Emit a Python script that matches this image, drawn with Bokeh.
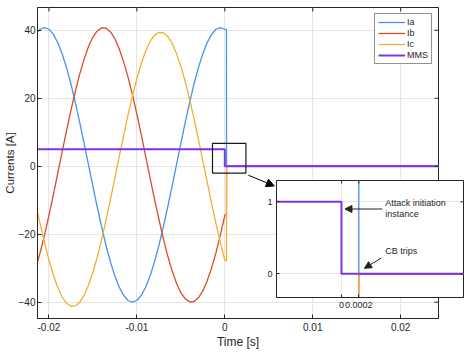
import math
from bokeh.plotting import figure
from bokeh.models import Range1d, FixedTicker, Arrow, NormalHead, Label, AllLabels
from bokeh.layouts import column
from bokeh.embed import file_html
from bokeh.resources import INLINE

FONT = "Liberation Sans"
TXT = "#262626"

# ---- data ----
t = [-0.0213, -0.0210, -0.0205, -0.0200, -0.0195, -0.0190, -0.0185, -0.0180, -0.0175,
     -0.0170, -0.0165, -0.0160, -0.0155, -0.0150, -0.0145, -0.0140, -0.0135, -0.0130,
     -0.0125, -0.0120, -0.0115, -0.0110, -0.0105, -0.0100, -0.0095, -0.0090, -0.0085,
     -0.0080, -0.0075, -0.0070, -0.0065, -0.0060, -0.0055, -0.0050, -0.0045, -0.0040,
     -0.0035, -0.0030, -0.0025, -0.0020, -0.0015, -0.0010, -0.0005, 0.0000, 0.00019,
     0.0002, 0.0243]
ia = [39.5, 40.3, 40.8, 40.3, 38.8, 36.4, 33.1, 29.0, 24.2, 18.7, 12.9, 6.7, 0.4, -5.9,
      -12.1, -17.9, -23.4, -28.2, -32.3, -35.6, -38.0, -39.5, -40.0, -39.5, -38.0, -35.6,
      -32.3, -28.2, -23.4, -17.9, -12.1, -5.9, 0.4, 6.7, 12.9, 18.7, 24.2, 29.0, 33.1,
      36.4, 38.8, 40.3, 40.8, 40.3, 40.2, 0.0, 0.0]
ib = [-28.2, -25.4, -20.2, -14.5, -8.4, -2.1, 4.2, 10.4, 16.4, 22.0, 27.1, 31.5, 35.2,
      38.0, 39.8, 40.7, 40.6, 39.5, 37.5, 34.5, 30.7, 26.2, 21.0, 15.3, 9.2, 2.9, -3.4,
      -9.6, -15.6, -21.2, -26.3, -30.7, -34.4, -37.2, -39.0, -39.9, -39.8, -38.7, -36.7,
      -33.7, -29.9, -25.4, -20.2, -14.5, -14.0, 0.0, 0.0]
ic = [-13.4, -16.9, -22.5, -27.6, -32.0, -35.7, -38.5, -40.3, -41.2, -41.1, -40.0, -38.0,
      -35.0, -31.2, -26.7, -21.5, -15.8, -9.7, -3.4, 2.9, 9.1, 15.1, 20.7, 25.8, 30.2,
      33.9, 36.7, 38.5, 39.4, 39.3, 38.2, 36.2, 33.2, 29.4, 24.9, 19.7, 14.0, 7.9, 1.6,
      -4.7, -11.0, -16.9, -22.5, -27.6, -27.9, 0.0, 0.0]
mms_t = [-0.0213, 0.0, 0.0, 0.0243]
mms_main = [5, 5, 0, 0]
mms_inset = [1, 1, 0, 0]

series_names = ["Ia", "Ib", "Ic"]
series_colors = ["#4A90F0", "#DB4A2A", "#F0B030"]
mms_color = "#7F33E6"

x_ticks = [-0.02, -0.01, 0, 0.01, 0.02]
x_tick_labels = ["-0.02", "-0.01", "0", "0.01", "0.02"]
y_ticks = [-40, -20, 0, 20, 40]
inset_x_ticks = [0, 0.0002]
inset_x_labels = ["0", "0.0002"]
inset_y_ticks = [0, 1]
zoom_box_x = [-0.0014, 0.0024]
zoom_box_y = [-2.0, 6.7]


def style_axis(ax, ticks, size, overrides=None, tick_in=4):
    ax.ticker = FixedTicker(ticks=ticks)
    if overrides:
        ax.major_label_overrides = overrides
    ax.major_label_policy = AllLabels()
    ax.major_tick_in = tick_in
    ax.major_tick_out = 0
    ax.minor_tick_in = 0
    ax.minor_tick_out = 0
    ax.axis_line_color = TXT
    ax.major_tick_line_color = TXT
    ax.major_label_text_font = FONT
    ax.major_label_text_color = TXT
    ax.major_label_text_font_size = size
    ax.axis_label_text_font = FONT
    ax.axis_label_text_font_style = "normal"
    ax.axis_label_text_color = TXT
    ax.axis_label_text_font_size = "12px"


def box_ticks(fig, xt, yt, size):
    # inward tick marks on the top and right edges (half of each dash is clipped)
    xr, yr = fig.x_range, fig.y_range
    fig.scatter(xt, [yr.end] * len(xt), marker="dash", angle=math.pi / 2, size=size,
                line_color=TXT, line_width=1)
    fig.scatter([xr.end] * len(yt), yt, marker="dash", size=size, line_color=TXT,
                line_width=1)


# ---- main figure ----
p = figure(width=466, height=352, x_range=Range1d(-0.0213, 0.0243),
           y_range=Range1d(-44.8, 46.7), output_backend="svg", toolbar_location=None,
           min_border_left=36, min_border_right=28, min_border_top=7, min_border_bottom=34)
p.frame_align = False
p.background_fill_color = "white"
p.border_fill_color = "white"
p.outline_line_color = TXT

p.xgrid.ticker = FixedTicker(ticks=x_ticks)
p.ygrid.ticker = FixedTicker(ticks=y_ticks)
p.xgrid.grid_line_color = "#E6E6E6"
p.ygrid.grid_line_color = "#E6E6E6"

for name, ys, col in zip(series_names, [ia, ib, ic], series_colors):
    p.line(t, ys, color=col, line_width=1.3, legend_label=name)
p.line(mms_t, mms_main, color=mms_color, line_width=2, legend_label="MMS")

p.quad(left=[zoom_box_x[0]], right=[zoom_box_x[1]], bottom=[zoom_box_y[0]],
       top=[zoom_box_y[1]], fill_alpha=0, line_color="#1a1a1a", line_width=1.2)
p.add_layout(Arrow(end=NormalHead(size=8, fill_color="black", line_color="black"),
                   x_start=0.00268, y_start=-2.65, x_end=0.00563, y_end=-5.81,
                   line_color="black", line_width=1))
box_ticks(p, x_ticks, y_ticks, 8)

style_axis(p.xaxis[0], x_ticks, "10px", dict(zip(x_ticks, x_tick_labels)))
p.xaxis[0].axis_label = "Time [s]"
p.xaxis[0].major_label_standoff = 4
p.xaxis[0].axis_label_standoff = 1
style_axis(p.yaxis[0], y_ticks, "10px")
p.yaxis[0].axis_label = "Currents [A]"
p.yaxis[0].axis_label_text_font_size = "11.5px"
p.yaxis[0].major_label_standoff = 2
p.yaxis[0].axis_label_standoff = 0

lg = p.legend[0]
lg.location = "top_right"
lg.margin = 6
lg.padding = 3
lg.spacing = 1
lg.glyph_width = 27
lg.glyph_height = 10
lg.label_height = 10
lg.label_standoff = 2
lg.label_text_font = FONT
lg.label_text_font_size = "9px"
lg.label_text_color = TXT
lg.border_line_color = TXT
lg.border_line_width = 1
lg.background_fill_color = "white"
lg.background_fill_alpha = 1

# ---- inset figure ----
q = figure(width=203, height=135, x_range=Range1d(-0.00075, 0.001408),
           y_range=Range1d(-0.329, 1.296), output_backend="svg", toolbar_location=None,
           min_border_left=14, min_border_right=2, min_border_top=2, min_border_bottom=16)
q.frame_align = False
q.border_fill_alpha = 0
q.background_fill_color = "white"
q.outline_line_color = TXT

q.xgrid.ticker = FixedTicker(ticks=inset_x_ticks)
q.ygrid.ticker = FixedTicker(ticks=inset_y_ticks)
q.xgrid.grid_line_color = "#E6E6E6"
q.ygrid.grid_line_color = "#E6E6E6"

for ys, col in zip([ia, ib, ic], series_colors):
    q.line(t, ys, color=col, line_width=1.3)
q.line(mms_t, mms_inset, color=mms_color, line_width=2)
box_ticks(q, inset_x_ticks, inset_y_ticks, 6)

style_axis(q.xaxis[0], inset_x_ticks, "9px", dict(zip(inset_x_ticks, inset_x_labels)), 3)
q.xaxis[0].major_label_standoff = 4
style_axis(q.yaxis[0], inset_y_ticks, "9px", None, 3)
q.yaxis[0].major_label_standoff = 4

for txt, yy in [("Attack initiation", 0.98), ("instance", 0.826), ("CB trips", 0.32)]:
    q.add_layout(Label(x=0.000505, y=yy, text=txt, text_font=FONT, text_font_size="9px",
                       text_color=TXT, text_baseline="middle", text_align="left"))
q.add_layout(Arrow(end=NormalHead(size=7, fill_color="#222222", line_color="#222222"),
                   x_start=0.00047, y_start=0.90, x_end=0.00004, y_end=0.90,
                   line_color="#222222", line_width=1))
q.add_layout(Arrow(end=NormalHead(size=7, fill_color="#222222", line_color="#222222"),
                   x_start=0.00046, y_start=0.22, x_end=0.000265, y_end=0.076,
                   line_color="#222222", line_width=1))

q.styles = {"position": "absolute", "left": "262px", "top": "178px"}

layout = column(p, q, styles={"position": "relative"})

open("out.html", "w").write(file_html(layout, INLINE))
